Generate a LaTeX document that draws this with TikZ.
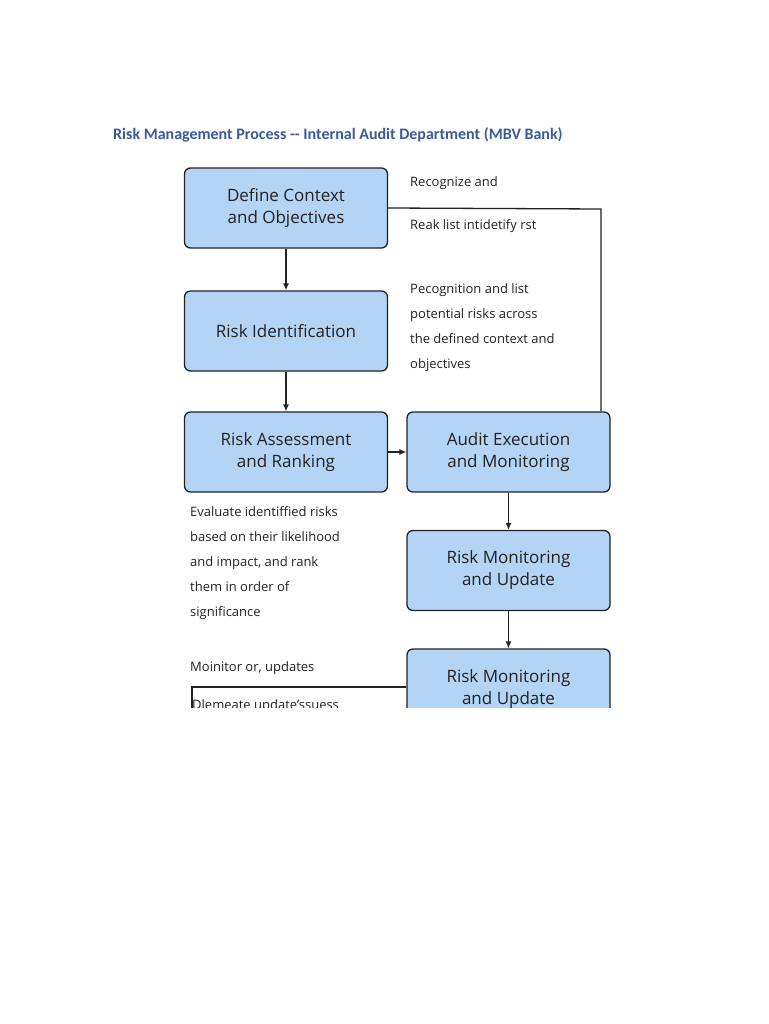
\documentclass[tikz,border=0pt]{standalone}
\usepackage{fontspec}
\setmainfont{Open Sans}
\newfontfamily\titlefont{Carlito}
\usetikzlibrary{arrows.meta}
\definecolor{boxfill}{HTML}{B3D4F5}
\definecolor{titleblue}{HTML}{3A5A9A}
\definecolor{ink}{HTML}{222222}
\begin{document}
\begin{tikzpicture}[x=1pt,y=-1pt,
  box/.style={draw=ink,line width=1.3pt,fill=boxfill,rounded corners=6pt,minimum width=203pt,minimum height=80pt,font=\fontsize{17}{22}\selectfont,text=ink,align=center},
  note/.style={anchor=west,font=\fontsize{13}{25}\selectfont,text=ink,align=left,inner sep=0pt},
  ln/.style={draw=ink,line width=1.3pt},
  arr/.style={ln,-{Latex[length=7pt,width=6pt]}}]
\useasboundingbox (0,0) rectangle (768,1024);
\node[font=\titlefont\bfseries\fontsize{16}{20}\selectfont,text=titleblue,anchor=west,inner sep=0] (title) at (113,135) {Risk Management Process -- Internal Audit Department (MBV Bank)};
\begin{scope}
\clip (100,150) rectangle (700,707);
\node[box] (b1) at (286,208) {Define Context\\and Objectives};
\node[box] (b2) at (286,331) {Risk Identification};
\node[box] (b3) at (286,452) {Risk Assessment\\and Ranking};
\node[box] (b4) at (508.5,452) {Audit Execution\\and Monitoring};
\node[box] (b5) at (508.5,570.5) {Risk Monitoring\\and Update};
\node[box] (b6) at (508.5,689) {Risk Monitoring\\and Update};
\coordinate (c1) at (601,209);
\draw[ln] (b1.east) -- (c1) -- (c1 |- b4.north);
\draw[arr] (b1) -- (b2);
\draw[arr] (b2) -- (b3);
\draw[arr] (b3) -- (b4);
\draw[arr] (b4) -- (b5);
\draw[arr] (b5) -- (b6);
\coordinate (c2) at (192,687);
\coordinate (c3) at (192,710);
\draw[ln] (b6.west |- c2) -- (c2) -- (c3);
\node[note] (t1) at (410,183) {Recognize and};
\node[note] (t2) at (410,226) {Reak list intidetify rst};
\node[note] (t3) at (410,328) {Pecognition and list\\potential risks across\\the defined context and\\objectives};
\node[note] (t4) at (190,563) {Evaluate identiffied risks\\based on their likelihood\\and impact, and rank\\them in order of\\significance};
\node[note] (t5) at (190,668) {Moinitor or, updates};
\node[note] (t6) at (192,706) {Dlemeate update'ssuess};
\end{scope}
\end{tikzpicture}
\end{document}
